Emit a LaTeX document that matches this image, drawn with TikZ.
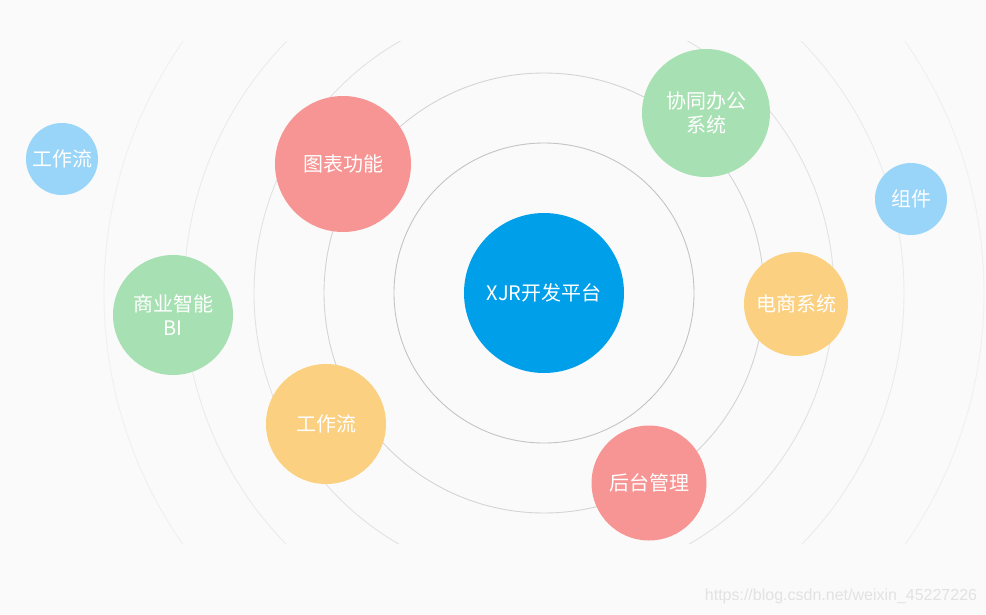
\documentclass[tikz,border=0pt]{standalone}
\usepackage{fontspec}
\newfontfamily\cjk{Noto Sans CJK SC}
\newfontfamily\wmfont{Liberation Sans}
\definecolor{bgc}{HTML}{FAFAFA}
\definecolor{ring1}{HTML}{C4C4C4}
\definecolor{ring2}{HTML}{D4D4D4}
\definecolor{ring3}{HTML}{E2E2E2}
\definecolor{ring4}{HTML}{EBEBEB}
\definecolor{ring5}{HTML}{F0F0F0}
\definecolor{mainblue}{HTML}{009FEA}
\definecolor{lblue}{HTML}{99D5F8}
\definecolor{lred}{HTML}{F69593}
\definecolor{lgreen}{HTML}{A7E1B3}
\definecolor{lorange}{HTML}{FBD080}
\definecolor{wm}{HTML}{E2E2E2}
\tikzset{
  bubble/.style={circle, inner sep=0pt, text=white, align=center,
    font=\cjk\fontsize{20}{24}\selectfont},
  orbit/.style={line width=0.9pt},
}
\begin{document}
\begin{tikzpicture}[x=1pt,y=-1pt]
\fill[bgc] (0,0) rectangle (986,614);
\useasboundingbox (0,0) rectangle (986,614);
\coordinate (c) at (544,293);
\begin{scope}
  \clip (0,41) rectangle (986,543);
  \draw[orbit, ring5] (c) circle[radius=440];
  \draw[orbit, ring4] (c) circle[radius=360];
  \draw[orbit, ring3] (c) circle[radius=290];
  \draw[orbit, ring2] (c) circle[radius=220];
  \draw[orbit, ring1] (c) circle[radius=150];
\end{scope}
\node[bubble, fill=mainblue, minimum size=160pt] (main) at (c) {XJR开发平台};
\node[bubble, fill=lblue, minimum size=72pt] (wfl) at (62,159) {工作流};
\node[bubble, fill=lred, minimum size=136pt] (chart) at (343,164) {图表功能};
\node[bubble, fill=lgreen, minimum size=120pt] (bi) at (173,315) {商业智能\\BI};
\node[bubble, fill=lorange, minimum size=120pt] (wf) at (326,424) {工作流};
\node[bubble, fill=lgreen, minimum size=128pt] (oa) at (706,113) {协同办公\\系统};
\node[bubble, fill=lblue, minimum size=72pt] (comp) at (911,199) {组件};
\node[bubble, fill=lorange, minimum size=104pt] (ec) at (796,304) {电商系统};
\node[bubble, fill=lred, minimum size=115pt] (admin) at (649,483) {后台管理};
\node[text=wm, font=\wmfont\fontsize{16}{18}\selectfont, inner sep=0pt] (wmk) at (841,596) {https://blog.csdn.net/weixin\_45227226};
\end{tikzpicture}
\end{document}
